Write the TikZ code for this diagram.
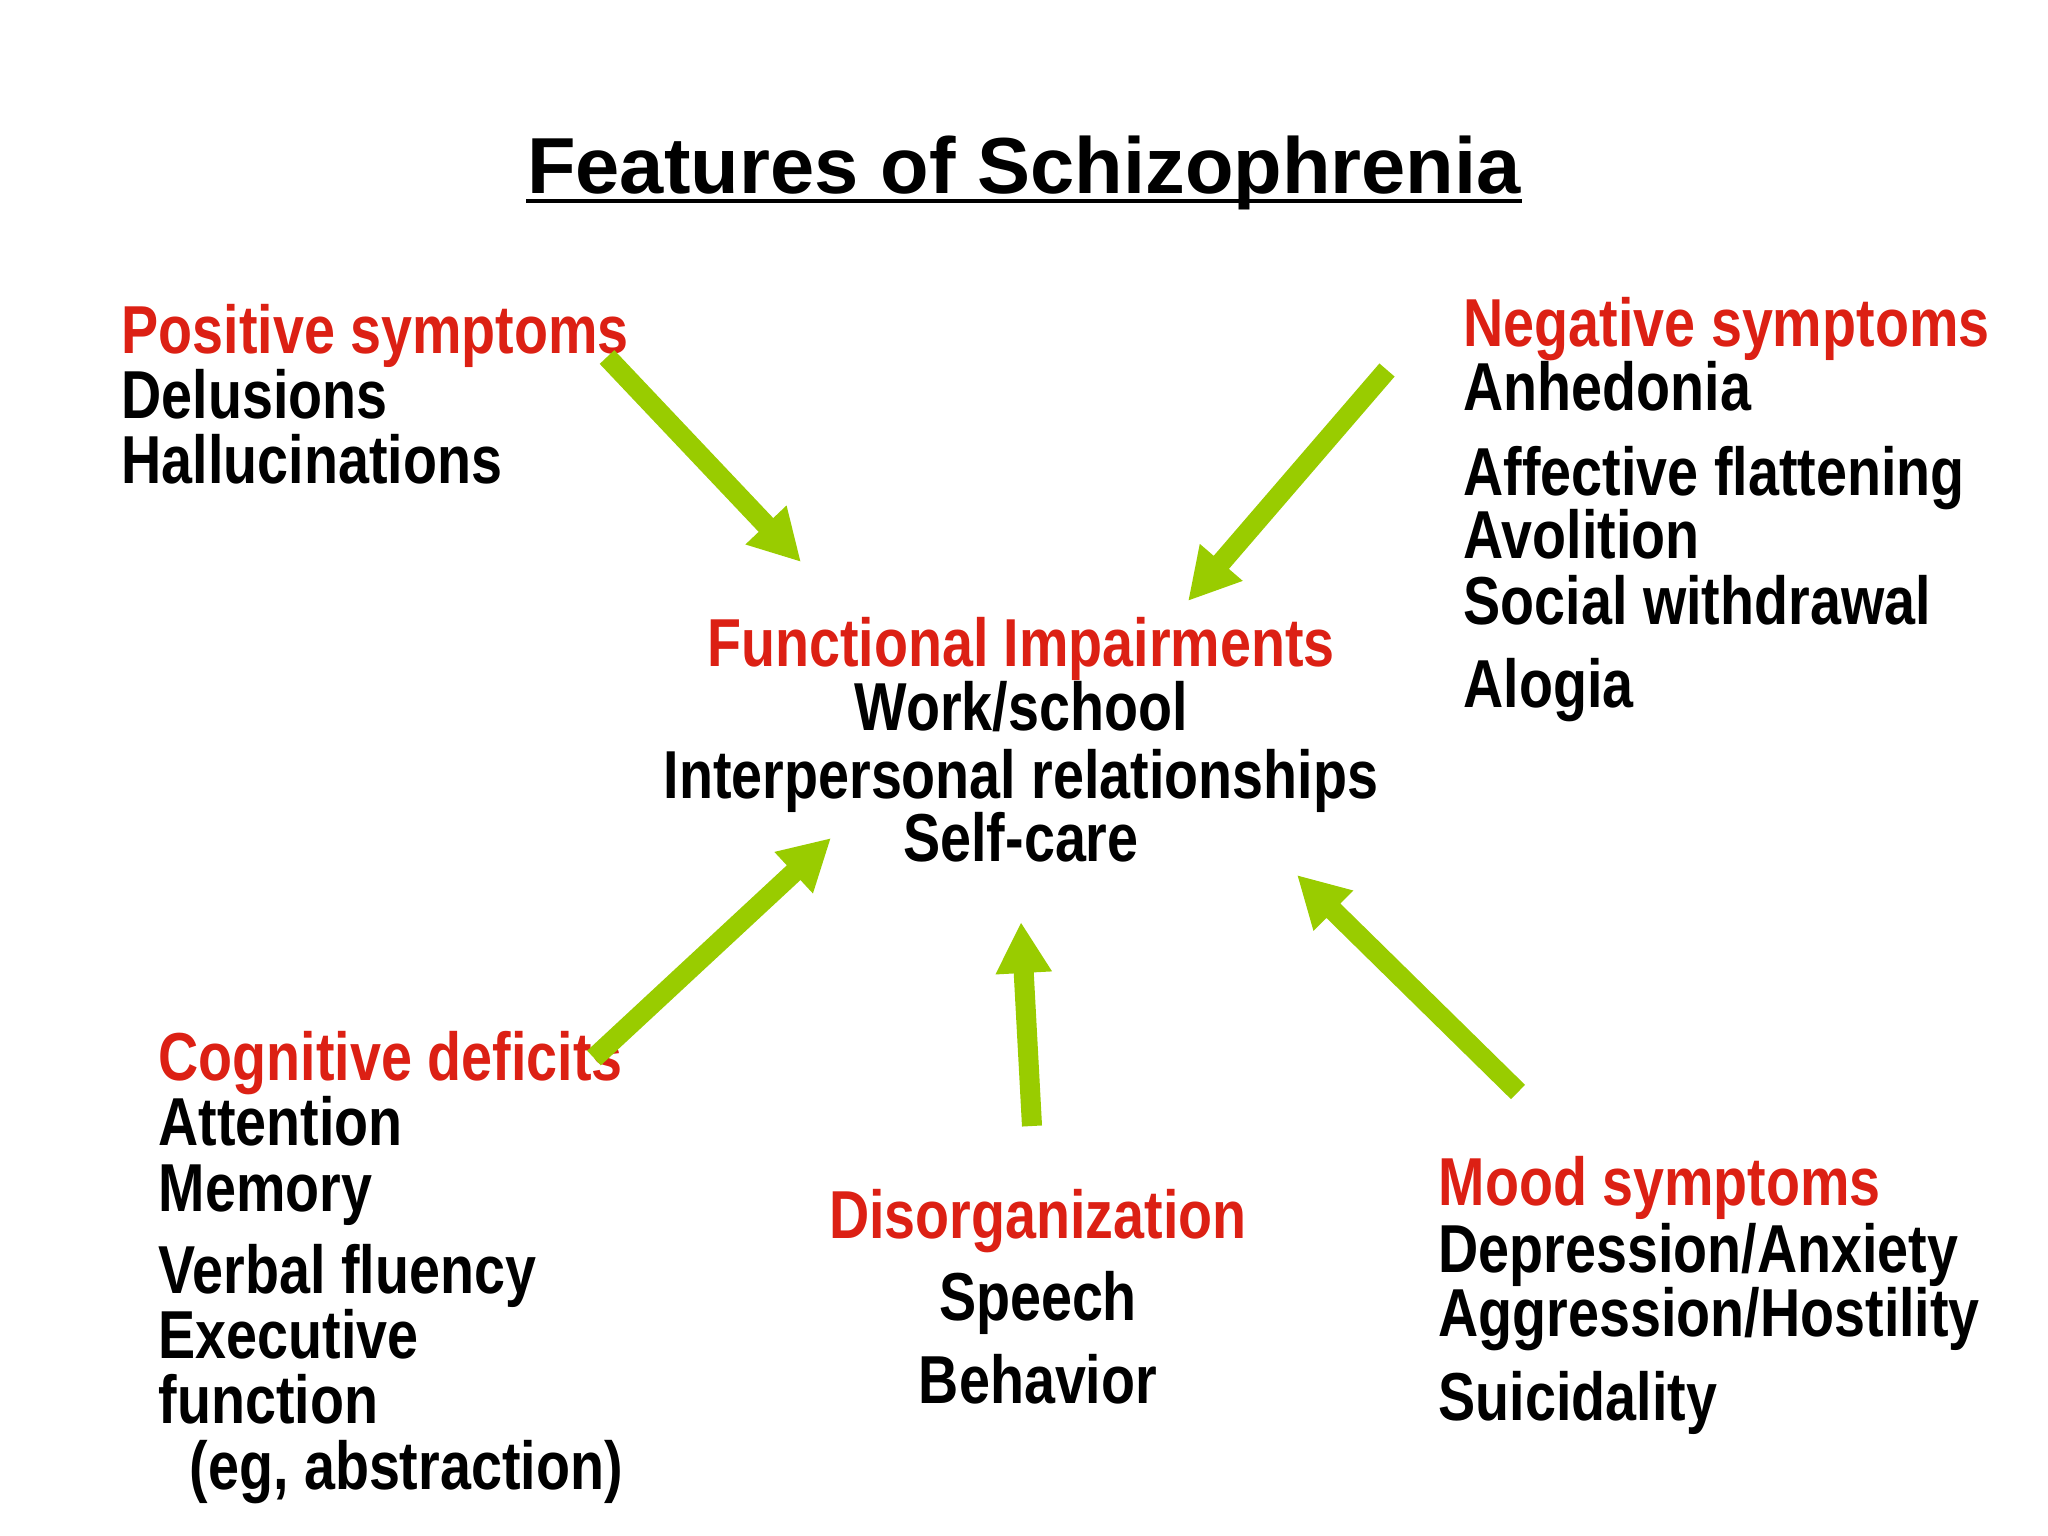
\documentclass[tikz,border=0pt]{standalone}
\usepackage{fontspec}
\setmainfont{Liberation Sans}
\newfontfamily\narrowfont{Liberation Sans}[FakeStretch=0.82]
\usetikzlibrary{arrows.meta}
\definecolor{headred}{RGB}{220,32,20}
\definecolor{arrowgreen}{RGB}{153,204,0}

\begin{document}
\begin{tikzpicture}[x=0.01cm,y=-0.01cm]

\tikzset{head/.style = {text=headred, inner sep=0pt, font=\narrowfont\bfseries\fontsize{19.3pt}{22pt}\selectfont}}
\tikzset{item/.style = {text=black, inner sep=0pt, font=\narrowfont\bfseries\fontsize{19.3pt}{22pt}\selectfont}}
\tikzset{bigarrow/.style = {draw=arrowgreen, line width=5.7pt, -{Triangle[width=15pt,length=14.5pt]}}}
\useasboundingbox (0,0) rectangle (2048,1536);
%title
\node[inner sep=0pt, anchor=base, font=\bfseries\fontsize{22.6pt}{26pt}\selectfont] (title) at (1024,193) {Features of Schizophrenia};
\draw[line width=1.3pt] ([yshift=-2.3pt]title.base west) -- ([yshift=-2.3pt]title.base east);
%positive
\node[head, anchor=base west] (pos) at (121,353) {Positive symptoms};
\node[item, anchor=base west] (pos1) at (121,418) {Delusions};
\node[item, anchor=base west] (pos2) at (121,483) {Hallucinations};
%negative
\node[head, anchor=base west] (neg) at (1463,346) {Negative symptoms};
\node[item, anchor=base west] (neg1) at (1463,410) {Anhedonia};
\node[item, anchor=base west] (neg2) at (1463,495) {Affective flattening};
\node[item, anchor=base west] (neg3) at (1463,558) {Avolition};
\node[item, anchor=base west] (neg4) at (1463,624) {Social withdrawal};
\node[item, anchor=base west] (neg5) at (1463,707) {Alogia};
%functional
\node[head, anchor=base] (fun) at (1021,666) {Functional Impairments};
\node[item, anchor=base] (fun1) at (1021,730) {Work/school};
\node[item, anchor=base] (fun2) at (1021,798) {Interpersonal relationships};
\node[item, anchor=base] (fun3) at (1021,861) {Self-care};
%cognitive
\node[head, anchor=base west] (cog) at (158,1080) {Cognitive deficits};
\node[item, anchor=base west] (cog1) at (158,1145) {Attention};
\node[item, anchor=base west] (cog2) at (158,1211) {Memory};
\node[item, anchor=base west] (cog3) at (158,1293) {Verbal fluency};
\node[item, anchor=base west] (cog4) at (158,1358) {Executive};
\node[item, anchor=base west] (cog5) at (158,1423) {function};
\node[item, anchor=base west] (cog6) at (189,1489) {(eg, abstraction)};
%disorganization
\node[head, anchor=base] (dis) at (1038,1238) {Disorganization};
\node[item, anchor=base] (dis1) at (1038,1320) {Speech};
\node[item, anchor=base] (dis2) at (1038,1403) {Behavior};
%mood
\node[head, anchor=base west] (mood) at (1438,1205) {Mood symptoms};
\node[item, anchor=base west] (mood1) at (1438,1272) {Depression/Anxiety};
\node[item, anchor=base west] (mood2) at (1438,1336) {Aggression/Hostility};
\node[item, anchor=base west] (mood3) at (1438,1420) {Suicidality};
%arrow ends
\coordinate (posA) at (607,357);
\coordinate (posB) at (801,562);
\coordinate (negA) at (1387,370);
\coordinate (negB) at (1188,601);
\coordinate (cogA) at (594,1058);
\coordinate (cogB) at (831,838);
\coordinate (disA) at (1032,1126);
\coordinate (disB) at (1021,922);
\coordinate (moodA) at (1518,1092);
\coordinate (moodB) at (1297,875);
%arrows
\draw[bigarrow] (posA) -- (posB);
\draw[bigarrow] (negA) -- (negB);
\draw[bigarrow] (cogA) -- (cogB);
\draw[bigarrow] (disA) -- (disB);
\draw[bigarrow] (moodA) -- (moodB);

\end{tikzpicture}
\end{document}
